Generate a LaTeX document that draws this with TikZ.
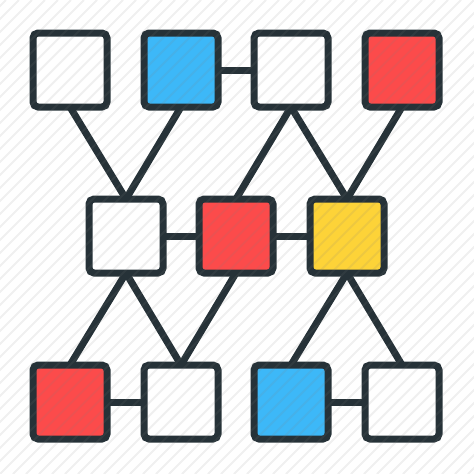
\documentclass[tikz,border=0pt]{standalone}
\usepackage{xcolor}
\usepackage{tikz}
\usetikzlibrary{backgrounds}

\definecolor{edge}{HTML}{263238}
\definecolor{nodeblue}{HTML}{3DB8F8}
\definecolor{nodered}{HTML}{FC4B4B}
\definecolor{nodeyellow}{HTML}{FDD338}

\begin{document}
\begin{tikzpicture}[x=1pt, y=-1pt,
        box/.style={draw=edge, line width=7pt, rectangle, rounded corners=5pt,
            minimum size=74pt, inner sep=0pt, outer sep=0pt, fill=white},
        link/.style={draw=edge, line width=7pt},
        stripe/.style={draw=gray, line width=2pt, opacity=0.12}]
        \useasboundingbox (0,0) rectangle (474,474);

        % top row
        \node[box] (t1) at (70,70) {};
        \node[box, fill=nodeblue] (t2) at (181,70) {};
        \node[box] (t3) at (291,70) {};
        \node[box, fill=nodered] (t4) at (402,70) {};

        % middle row
        \node[box] (m1) at (126,236) {};
        \node[box, fill=nodered] (m2) at (236,236) {};
        \node[box, fill=nodeyellow] (m3) at (347,236) {};

        % bottom row
        \node[box, fill=nodered] (b1) at (70,402) {};
        \node[box] (b2) at (181,402) {};
        \node[box, fill=nodeblue] (b3) at (291,402) {};
        \node[box] (b4) at (402,402) {};

        \begin{scope}[on background layer]
            \draw[link] (t2.east) -- (t3.west);
            \draw[link] (m1.east) -- (m2.west);
            \draw[link] (m2.east) -- (m3.west);
            \draw[link] (b1.east) -- (b2.west);
            \draw[link] (b3.east) -- (b4.west);

            \draw[link] (t1.south) -- (m1.north);
            \draw[link] (t2.south) -- (m1.north);
            \draw[link] (t3.south) -- (m2.north);
            \draw[link] (t3.south) -- (m3.north);
            \draw[link] (t4.south) -- (m3.north);

            \draw[link] (m1.south) -- (b1.north);
            \draw[link] (m1.south) -- (b2.north);
            \draw[link] (m2.south) -- (b2.north);
            \draw[link] (m3.south) -- (b3.north);
            \draw[link] (m3.south) -- (b4.north);
        \end{scope}

        % faint hatching over the whole picture
        \begin{scope}
            \clip (0,0) rectangle (474,474);
            \foreach \i in {-481,-468,...,481}
                \draw[stripe] (\i,474) -- (\i+474,0);
        \end{scope}
\end{tikzpicture}
\end{document}
